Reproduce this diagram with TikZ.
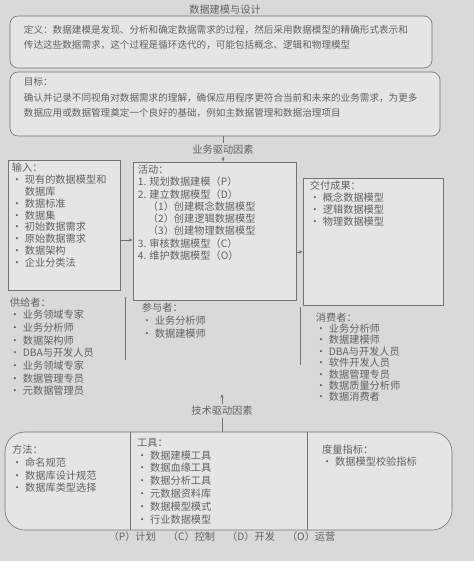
\documentclass[tikz,border=0pt]{standalone}
\usepackage{fontspec}
\setmainfont{Noto Sans CJK SC}
\usepackage{tikz}
\usetikzlibrary{arrows.meta}
\usetikzlibrary{positioning}
\colorlet{paper}{black!15}
\colorlet{sheet}{black!10}
\colorlet{ink}{black!62}
\colorlet{rulecol}{black!55}
\newcommand\itemdot{\hspace*{5pt}\makebox[0pt][c]{·}\hspace*{8pt}}
\newcommand\itemcont{\hspace*{13pt}}
\newcommand\linesp[1]{\fontsize{10.2}{#1}\selectfont}
\tikzstyle{txt}=[inner sep=0pt, align=left, text=ink, font={\linesp{12.3}}]
\tikzstyle{lbl}=[txt, inner sep=2pt]
\tikzstyle{ctx}=[draw=rulecol, line width=.6pt, fill=sheet, inner sep=0pt]
\tikzstyle{rim}=[draw=rulecol, line width=.6pt]
\tikzstyle{arr}=[rim, -{Stealth[length=4pt,width=3.2pt]}]
\tikzstyle{cell}=[inner sep=0pt, outer sep=0pt, minimum height=98pt]

\begin{document}
\begin{tikzpicture}[x=1pt,y=-1pt]
	\useasboundingbox (0,0) rectangle (474,561);
	\fill[paper] (0,0) rectangle (474,561);
	\node[txt] (title) at (225,10) {数据建模与设计};
	% definition, goal
	\node[ctx, rounded corners=8pt, minimum width=422pt, minimum height=52pt] (defbox) at (221,42) {};
	\node[txt, font={\fontsize{9.6}{15}\selectfont}, below right=9pt and 14pt of defbox.north west] (deftxt)
		{定义：数据建模是发现、分析和确定数据需求的过程，然后采用数据模型的精确形式表示和\\
		传达这些数据需求，这个过程是循环迭代的，可能包括概念、逻辑和物理模型};
	\node[ctx, rounded corners=8pt, minimum width=430pt, minimum height=64pt] (goalbox) at (225,104) {};
	\node[txt, font={\fontsize{9.6}{15.5}\selectfont}, below right=6pt and 14pt of goalbox.north west] (goaltxt)
		{目标：\\
		确认并记录不同视角对数据需求的理解，确保应用程序更符合当前和未来的业务需求，为更多\\
		数据应用或数据管理奠定一个良好的基础，例如主数据管理和数据治理项目};
	\node[lbl] (bdrv) at (223,150) {业务驱动因素};
	% inputs, activities, deliverables
	\node[ctx, minimum width=112pt, minimum height=130pt] (in) at (64,225) {};
	\node[txt, font={\linesp{11.9}}, below right=3pt and 4pt of in.north west] (intxt)
		{输入：\\
		\itemdot 现有的数据模型和\\
		\itemcont 数据库\\
		\itemdot 数据标准\\
		\itemdot 数据集\\
		\itemdot 初始数据需求\\
		\itemdot 原始数据需求\\
		\itemdot 数据架构\\
		\itemdot 企业分类法};
	\node[ctx, minimum width=163pt, minimum height=138pt] (act) at (214.5,231) {};
	\node[txt, below right=3pt and 5pt of act.north west] (acttxt)
		{活动：\\
		1. 规划数据建模（P）\\
		2. 建立数据模型（D）\\
		\hspace*{10pt}（1）创建概念数据模型\\
		\hspace*{10pt}（2）创建逻辑数据模型\\
		\hspace*{10pt}（3）创建物理数据模型\\
		3. 审核数据模型（C）\\
		4. 维护数据模型（O）};
	\node[ctx, minimum width=140pt, minimum height=127pt] (del) at (373,241.5) {};
	\node[txt, font={\linesp{12}}, below right=3pt and 7pt of del.north west] (deltxt)
		{交付成果：\\
		\itemdot 概念数据模型\\
		\itemdot 逻辑数据模型\\
		\itemdot 物理数据模型};
	\draw[rim] (goalbox.south -| bdrv) -- (bdrv);
	\draw[arr] (bdrv) -- (bdrv |- act.north);
	\draw[arr] ([yshift=-15pt]in.east) -- ([yshift=-15pt]in.east -| act.west);
	\draw[arr] ([yshift=-21pt]act.east) -- ([yshift=-21pt]act.east -| del.west);
	% suppliers, participants, consumers
	\node[txt, font={\linesp{12.7}}, below right=7pt and 2pt of in.south west] (suptxt)
		{供给者：\\
		\itemdot 业务领域专家\\
		\itemdot 业务分析师\\
		\itemdot 数据架构师\\
		\itemdot DBA与开发人员\\
		\itemdot 业务领域专家\\
		\itemdot 数据管理专员\\
		\itemdot 元数据管理员};
	\node[txt, font={\linesp{13}}, below right=2pt and 9pt of act.south west] (partxt)
		{参与者：\\
		\itemdot 业务分析师\\
		\itemdot 数据建模师};
	\node[txt, font={\linesp{11.4}}, below right=7pt and 13pt of del.south west] (contxt)
		{消费者：\\
		\itemdot 业务分析师\\
		\itemdot 数据建模师\\
		\itemdot DBA与开发人员\\
		\itemdot 软件开发人员\\
		\itemdot 数据管理专员\\
		\itemdot 数据质量分析师\\
		\itemdot 数据消费者};
	\draw[rim] ([shift={(5pt,-7pt)}]in.south east) -- ++(0,63);
	\draw[rim] ([shift={(-2pt,-2pt)}]del.south west) -- ++(0,58);
	% methods, tools, metrics
	\node[lbl] (tdrv) at (222,411) {技术驱动因素};
	\coordinate[above=10pt of tdrv.north] (tup);
	\node[cell, minimum width=125pt] (meth) at (67.5,481) {};
	\node[cell, minimum width=177pt, right=0pt of meth] (tools) {};
	\node[cell, minimum width=145pt, right=0pt of tools] (metr) {};
	\draw[rim, fill=sheet, rounded corners=20pt] (meth.north west) rectangle (metr.south east);
	\draw[rim] (meth.north east) -- (meth.south east);
	\draw[rim] (tools.north east) -- (tools.south east);
	\draw[arr] (tdrv) -- (tup);
	\draw[rim] (tdrv) -- (tdrv |- tools.north);
	\node[txt, font={\linesp{12.7}}, below right=13pt and 7pt of meth.north west] (methtxt)
		{方法：\\
		\itemdot 命名规范\\
		\itemdot 数据库设计规范\\
		\itemdot 数据库类型选择};
	\node[txt, font={\linesp{12.8}}, below right=6pt and 7pt of tools.north west] (toolstxt)
		{工具：\\
		\itemdot 数据建模工具\\
		\itemdot 数据血缘工具\\
		\itemdot 数据分析工具\\
		\itemdot 元数据资料库\\
		\itemdot 数据模型模式\\
		\itemdot 行业数据模型};
	\node[txt, font={\linesp{12}}, below right=13pt and 15pt of metr.north west] (metrtxt)
		{度量指标：\\
		\itemdot 数据模型校验指标};
	\node[txt] (legend) at (222,537) {（P）计划\hspace{12pt}（C）控制\hspace{12pt}（D）开发\hspace{12pt}（O）运营};
\end{tikzpicture}
\end{document}
